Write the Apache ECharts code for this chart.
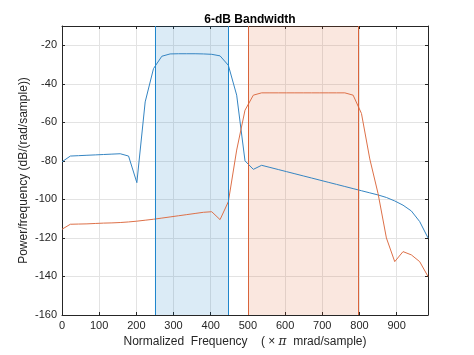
<!DOCTYPE html>
<html>
<head>
<meta charset="utf-8">
<script src="https://cdn.jsdelivr.net/npm/echarts@6/dist/echarts.min.js"></script>
<style>
html,body{margin:0;padding:0;background:#fff;}
#chart{width:474px;height:355px;}
</style>
</head>
<body>
<div id="chart"></div>
<script>
// Normalized frequency (x pi mrad/sample)
const freq = [0, 22.4, 44.7, 67.1, 89.5, 111.9, 134.2, 156.6, 179.0, 201.3,
  223.7, 246.1, 268.5, 290.8, 313.2, 335.6, 358.0, 380.3, 402.7, 425.1,
  447.4, 469.8, 492.2, 514.6, 536.9, 559.3, 581.7, 604.0, 626.4, 648.8,
  671.2, 693.5, 715.9, 738.3, 760.6, 783.0, 805.4, 827.8, 850.1, 872.5,
  894.9, 917.2, 939.6, 962.0, 984.4];
// PSD of first signal (dB/(rad/sample))
const psdBlue = [-80.5, -77.5, -77.3, -77.1, -76.9, -76.7, -76.5, -76.3, -77.5, -91.3,
  -49.4, -32.1, -25.7, -24.5, -24.4, -24.4, -24.4, -24.5, -24.7, -25.5,
  -30.4, -45.9, -80.0, -84.4, -82.3, -83.4, -84.5, -85.6, -86.7, -87.8,
  -88.9, -90.0, -91.1, -92.2, -93.3, -94.4, -95.5, -96.6, -97.7, -99.0,
  -100.8, -103.0, -106.0, -111.5, -120.0];
// PSD of second signal
const psdOrange = [-115.5, -112.9, -112.8, -112.7, -112.5, -112.3, -112.2, -112.0, -111.7, -111.3,
  -110.8, -110.3, -109.7, -109.1, -108.5, -107.9, -107.3, -106.7, -106.4, -110.5,
  -101.2, -74.4, -53.7, -45.9, -44.7, -44.7, -44.7, -44.7, -44.7, -44.7,
  -44.7, -44.7, -44.7, -44.7, -44.7, -45.9, -55.4, -79.0, -97.0, -120.0,
  -132.3, -127.1, -128.8, -132.3, -140.0];
// 6-dB bandwidth edges
const bandBlue = [249.8, 447.7];
const bandOrange = [500.4, 795.8];

const FONT = 'Liberation Sans, Arial, Helvetica, sans-serif';
const AX = '#262626';
const chart = echarts.init(document.getElementById('chart'));

function mkSeries(vals, color, edge, fill, band) {
  return {
    type: 'line',
    xAxisIndex: 0, yAxisIndex: 0,
    data: freq.map((f, i) => [f, vals[i]]),
    showSymbol: false,
    symbol: 'none',
    lineStyle: { color: color, width: 1 },
    itemStyle: { color: color },
    markArea: {
      silent: true,
      itemStyle: { color: fill, borderWidth: 0 },
      data: [[{ xAxis: band[0] }, { xAxis: band[1] }]]
    },
    markLine: {
      silent: true,
      symbol: 'none',
      label: { show: false },
      lineStyle: { color: edge, width: 1, type: 'solid', opacity: 1 },
      data: [{ xAxis: band[0] }, { xAxis: band[1] }]
    }
  };
}

const xBase = {
  type: 'value', min: 0, max: 984.375, interval: 100
};
const yBase = {
  type: 'value', min: -160, max: -10, interval: 20
};

chart.setOption({
  animation: false,
  backgroundColor: '#fff',
  textStyle: { fontFamily: FONT },
  title: {
    text: '6-dB Bandwidth',
    left: 245, top: 9, textAlign: 'center',
    textStyle: { fontFamily: FONT, fontSize: 12, fontWeight: 'bold', color: '#000' }
  },
  grid: { left: 62, right: 46, top: 26, bottom: 40, show: false },
  xAxis: [
    Object.assign({}, xBase, {
      position: 'bottom',
      name: '{a|Normalized  Frequency    ( × }{b|π}{a|  mrad/sample)}',
      nameLocation: 'middle', nameGap: 19,
      nameTextStyle: {
        rich: {
          a: { fontFamily: FONT, fontSize: 12, color: AX },
          b: { fontFamily: 'DejaVu Serif, serif', fontStyle: 'italic', fontSize: 12, color: AX }
        }
      },
      axisLine: { show: true, lineStyle: { color: AX, width: 1 } },
      axisTick: { show: true, inside: true, length: 3, lineStyle: { color: AX } },
      axisLabel: { fontFamily: FONT, fontSize: 11, color: AX, margin: 5, showMaxLabel: false },
      splitLine: { show: true, lineStyle: { color: '#e3e3e3', width: 1 } }
    }),
    Object.assign({}, xBase, {
      position: 'top',
      axisLine: { show: true, onZero: false, lineStyle: { color: AX, width: 1 } },
      axisTick: { show: true, inside: true, length: 3, lineStyle: { color: AX } },
      axisLabel: { show: false },
      splitLine: { show: false }
    })
  ],
  yAxis: [
    Object.assign({}, yBase, {
      position: 'left',
      name: 'Power/frequency (dB/(rad/sample))',
      nameLocation: 'middle', nameGap: 38, nameMoveOverlap: false,
      nameTextStyle: { fontFamily: FONT, fontSize: 12, color: AX, verticalAlign: 'middle' },
      axisLine: { show: true, onZero: false, lineStyle: { color: AX, width: 1 } },
      axisTick: { show: true, inside: true, length: 3, lineStyle: { color: AX } },
      axisLabel: { fontFamily: FONT, fontSize: 11, color: AX, margin: 5, showMaxLabel: false },
      splitLine: { show: true, lineStyle: { color: '#e3e3e3', width: 1 } }
    }),
    Object.assign({}, yBase, {
      position: 'right',
      axisLine: { show: true, onZero: false, lineStyle: { color: AX, width: 1 } },
      axisTick: { show: true, inside: true, length: 3, lineStyle: { color: AX } },
      axisLabel: { show: false },
      splitLine: { show: false }
    })
  ],
  series: [
    mkSeries(psdBlue, '#3585c2', '#1f86cc', 'rgba(0,114,189,0.14)', bandBlue),
    mkSeries(psdOrange, '#dd7048', '#d9643a', 'rgba(217,83,25,0.14)', bandOrange)
  ]
});
</script>
</body>
</html>
